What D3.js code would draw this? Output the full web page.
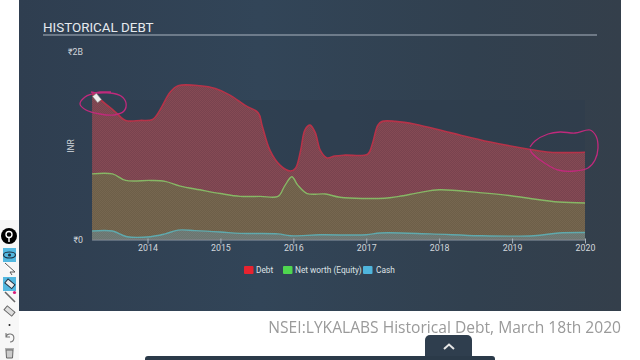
<!DOCTYPE html>
<html><head><meta charset="utf-8">
<script src="https://cdn.jsdelivr.net/npm/d3@7/dist/d3.min.js"></script>
<style>html,body{margin:0;padding:0;background:#fff;overflow:hidden}svg{display:block;filter:blur(0.35px)}</style>
</head><body><svg id="c" width="640" height="360"></svg>
<script>
const yearTicks=[2014,2015,2016,2017,2018,2019,2020];
const yTickVals=[0,2];
const yTickLabels=["₹0","₹2B"];
const seriesNames=["Debt","Net worth (Equity)","Cash"];
const seriesColors=["#e8232f","#4fd64f","#4fb5dc"];
const debtT=[2013.24,2013.42,2013.56,2013.70,2013.90,2014.07,2014.17,2014.31,2014.42,2014.72,2014.93,2015.13,2015.34,2015.52,2015.57,2015.68,2015.82,2015.96,2016.03,2016.10,2016.16,2016.23,2016.30,2016.37,2016.46,2016.57,2016.71,2017.02,2017.08,2017.16,2017.22,2017.40,2017.67,2018.15,2018.70,2019.25,2019.52,2020.0];
const debtV=[1.56,1.45,1.36,1.27,1.27,1.28,1.38,1.57,1.64,1.64,1.61,1.54,1.43,1.35,1.22,0.95,0.79,0.73,0.76,0.95,1.17,1.22,1.14,0.95,0.87,0.89,0.90,0.91,1.01,1.22,1.26,1.26,1.23,1.14,1.04,0.96,0.93,0.93];
const equityT=[2013.24,2013.52,2013.70,2014.04,2014.24,2014.45,2014.72,2015.0,2015.27,2015.55,2015.79,2015.88,2015.98,2016.06,2016.19,2016.44,2016.64,2017.25,2017.45,2017.73,2018.0,2018.55,2018.96,2019.23,2019.64,2020.0];
const equityV=[0.70,0.70,0.63,0.63,0.62,0.57,0.53,0.49,0.46,0.46,0.46,0.57,0.67,0.58,0.49,0.485,0.45,0.44,0.46,0.50,0.53,0.50,0.47,0.44,0.40,0.39];
const cashT=[2013.24,2013.52,2013.72,2014.04,2014.24,2014.42,2014.65,2015.0,2015.27,2015.79,2015.96,2016.37,2017.0,2017.19,2017.88,2018.55,2019.3,2019.64,2020.0];
const cashV=[0.09,0.09,0.03,0.03,0.06,0.10,0.095,0.08,0.065,0.06,0.04,0.05,0.05,0.07,0.06,0.04,0.04,0.07,0.075];
const caption="NSEI:LYKALABS Historical Debt, March 18th 2020";
const title="HISTORICAL DEBT";
// hand-drawn annotation outlines
const inkA=[[91,92],[98,93],[110,93],[121,96],[126,103],[124,111],[114,115],[100,114],[86,110],[80,104],[85,97],[92,94],[100,92],[111,92]];
const inkB=[[530,147],[535,141],[548,134],[560,132],[575,133],[590,130],[596,136],[598,148],[595,160],[588,168],[575,171],[558,170],[543,162],[532,153],[530,149]];
const svg=d3.select("#c");
const defs=svg.append("defs");
const g=defs.append("linearGradient").attr("id","bg");
[[0,"#2f3e50"],[.4,"#324558"],[.75,"#31404f"],[1,"#343f4b"]].forEach(s=>g.append("stop").attr("offset",s[0]).attr("stop-color",s[1]));
function hatch(id,a,b){const p=defs.append("pattern").attr("id",id).attr("width",2).attr("height",2).attr("patternUnits","userSpaceOnUse");
 p.append("rect").attr("width",2).attr("height",2).attr("fill",a);
 p.append("rect").attr("width",1).attr("height",1).attr("fill",b);
 p.append("rect").attr("x",1).attr("y",1).attr("width",1).attr("height",1).attr("fill",b);}
hatch("hd","#78434f","#854a54");hatch("he","#6d5f48","#766650");hatch("hc","#6a7570","#737d78");
svg.append("rect").attr("x",19).attr("y",0).attr("width",602).attr("height",311).attr("fill","url(#bg)");
svg.append("rect").attr("x",0).attr("y",220).attr("width",19).attr("height",140).attr("fill","#f7f7f7");
svg.append("text").attr("x",43).attr("y",32).text(title).attr("font-family","Roboto").attr("font-size",13.4).attr("fill","#e6eaee");
svg.append("rect").attr("x",43).attr("y",34.5).attr("width",554).attr("height",1).attr("fill","#aab4bf");
const x=d3.scaleLinear().domain([2014,2020]).range([147.5,585]);
const y=d3.scaleLinear().domain([0,2]).range([239.5,52]);
svg.append("rect").attr("x",x(debtT[0])).attr("y",100).attr("width",x(2020)-x(debtT[0])).attr("height",139.5).attr("fill","#2d3d4c").attr("opacity",.55);
const zip=(t,v)=>t.map((d,i)=>[d,v[i]]);
const curve=d3.curveCatmullRom.alpha(0.5);
const area=d3.area().x(d=>x(d[0])).y0(y(0)).y1(d=>y(d[1])).curve(curve);
const line=d3.line().x(d=>x(d[0])).y(d=>y(d[1])).curve(curve);
const debt=zip(debtT,debtV),eq=zip(equityT,equityV),cash=zip(cashT,cashV);
svg.append("path").attr("d",area(debt)).attr("fill","url(#hd)");
svg.append("path").attr("d",area(eq)).attr("fill","url(#he)");
svg.append("path").attr("d",area(cash)).attr("fill","url(#hc)");
svg.append("path").attr("d",line(debt)).attr("fill","none").attr("stroke","#b63349").attr("stroke-width",1.6);
svg.append("path").attr("d",line(eq)).attr("fill","none").attr("stroke","#86b765").attr("stroke-width",1.4);
svg.append("path").attr("d",line(cash)).attr("fill","none").attr("stroke","#5fa9ad").attr("stroke-width",1.4);
// axes
const ax=svg.append("g").attr("transform",`translate(0,${y(0)})`).call(d3.axisBottom(x).tickValues(yearTicks).tickFormat(d3.format("d")).tickSize(4).tickSizeOuter(0));
ax.select(".domain").attr("stroke","#8c98a3").attr("d",`M${x(debtT[0])},0.5H${x(2020)}`);
ax.selectAll("line").attr("stroke","#a7b0b9").attr("y1",-1).attr("y2",4);
ax.selectAll("text").attr("font-family","Roboto").attr("font-size",8.8).attr("fill","#d3d8dd").attr("dy",".62em").attr("y",6);
svg.selectAll(".yl").data(yTickVals).join("text").attr("class","yl").attr("x",83).attr("y",d=>y(d)+3).attr("text-anchor","end").text((d,i)=>yTickLabels[i]).attr("font-family","Roboto").attr("font-size",8.8).attr("fill","#cfd5da");
svg.append("text").attr("transform","translate(74,146) rotate(-90)").attr("text-anchor","middle").text("INR").attr("font-family","Roboto").attr("font-size",8.5).attr("fill","#cfd5da");
// legend
const lx=[244,283,363],tw=[256,295,376];
seriesNames.forEach((n,i)=>{
 svg.append("rect").attr("x",lx[i]).attr("y",266).attr("width",9.5).attr("height",8).attr("rx",1).attr("fill",seriesColors[i]);
 svg.append("text").attr("x",tw[i]).attr("y",273).text(n).attr("font-family","Roboto").attr("font-size",8.3).attr("fill","#dfe3e7");
});
// annotations
const ink=d3.line().curve(d3.curveCatmullRom);
[inkA,inkB].forEach(p=>svg.append("path").attr("d",ink(p)).attr("fill","none").attr("stroke","#c02a7c").attr("stroke-width",1.3));
// pen cursor
svg.append("rect").attr("x",-2.5).attr("y",-4).attr("width",5).attr("height",8).attr("fill","#eee").attr("stroke","#777").attr("stroke-width",.5).attr("transform","translate(97,98) rotate(-40)");
// caption
svg.append("text").attr("x",621).attr("y",333).attr("text-anchor","end").text(caption).attr("font-family","Open Sans").attr("font-size",15.6).attr("fill","#9a9a9a");
// bottom bar and tab
svg.append("rect").attr("x",145).attr("y",356).attr("width",350).attr("height",8).attr("rx",3).attr("fill","#2b3a49");
svg.append("path").attr("d","M425,356V340a5,5 0 0 1 5,-5H467a5,5 0 0 1 5,5V356Z").attr("fill","#2f3e4e");
svg.append("path").attr("d","M444,349L449,344.5L454,349").attr("fill","none").attr("stroke","#e6e6e6").attr("stroke-width",2);
// tool strip
svg.append("circle").attr("cx",9).attr("cy",236).attr("r",8).attr("fill","#000");
svg.append("circle").attr("cx",9).attr("cy",234.5).attr("r",3).attr("fill","none").attr("stroke","#fff").attr("stroke-width",1.4);
svg.append("path").attr("d","M9,238V242").attr("stroke","#fff").attr("stroke-width",1.4);
[[3,248],[3,277]].forEach(p=>svg.append("rect").attr("x",p[0]).attr("y",p[1]).attr("width",13).attr("height",14).attr("fill","#53b8e0"));
svg.append("ellipse").attr("cx",9.5).attr("cy",255).attr("rx",6).attr("ry",3).attr("fill","none").attr("stroke","#234").attr("stroke-width",1.2);
svg.append("circle").attr("cx",9.5).attr("cy",255).attr("r",1.6).attr("fill","#234");
svg.append("path").attr("d","M5,263L15,272L10,272L12,275").attr("fill","#fff").attr("stroke","#555").attr("stroke-width",1);
svg.append("rect").attr("x",-4).attr("y",-2.5).attr("width",9).attr("height",5).attr("fill","#eee").attr("stroke","#234").attr("transform","translate(9.5,283.5) rotate(40)");
svg.append("path").attr("d","M5,292L15,302").attr("stroke","#666").attr("stroke-width",1.6);
svg.append("circle").attr("cx",14.5).attr("cy",292.5).attr("r",1.6).attr("fill","#d81b7a");
svg.append("rect").attr("x",-5).attr("y",-2.5).attr("width",10).attr("height",5).attr("fill","#ddd").attr("stroke","#666").attr("transform","translate(9.5,311) rotate(40)");
svg.append("circle").attr("cx",9.5).attr("cy",325).attr("r",1).attr("fill","#222");
svg.append("path").attr("d","M6,337a4,4 0 1 1 4,5M6,333V337H10").attr("fill","none").attr("stroke","#777").attr("stroke-width",1.1);
svg.append("path").attr("d","M6,350H13L12.5,358H6.5ZM5,349H14").attr("fill","#ccc").attr("stroke","#666").attr("stroke-width",1);
</script></body></html>
